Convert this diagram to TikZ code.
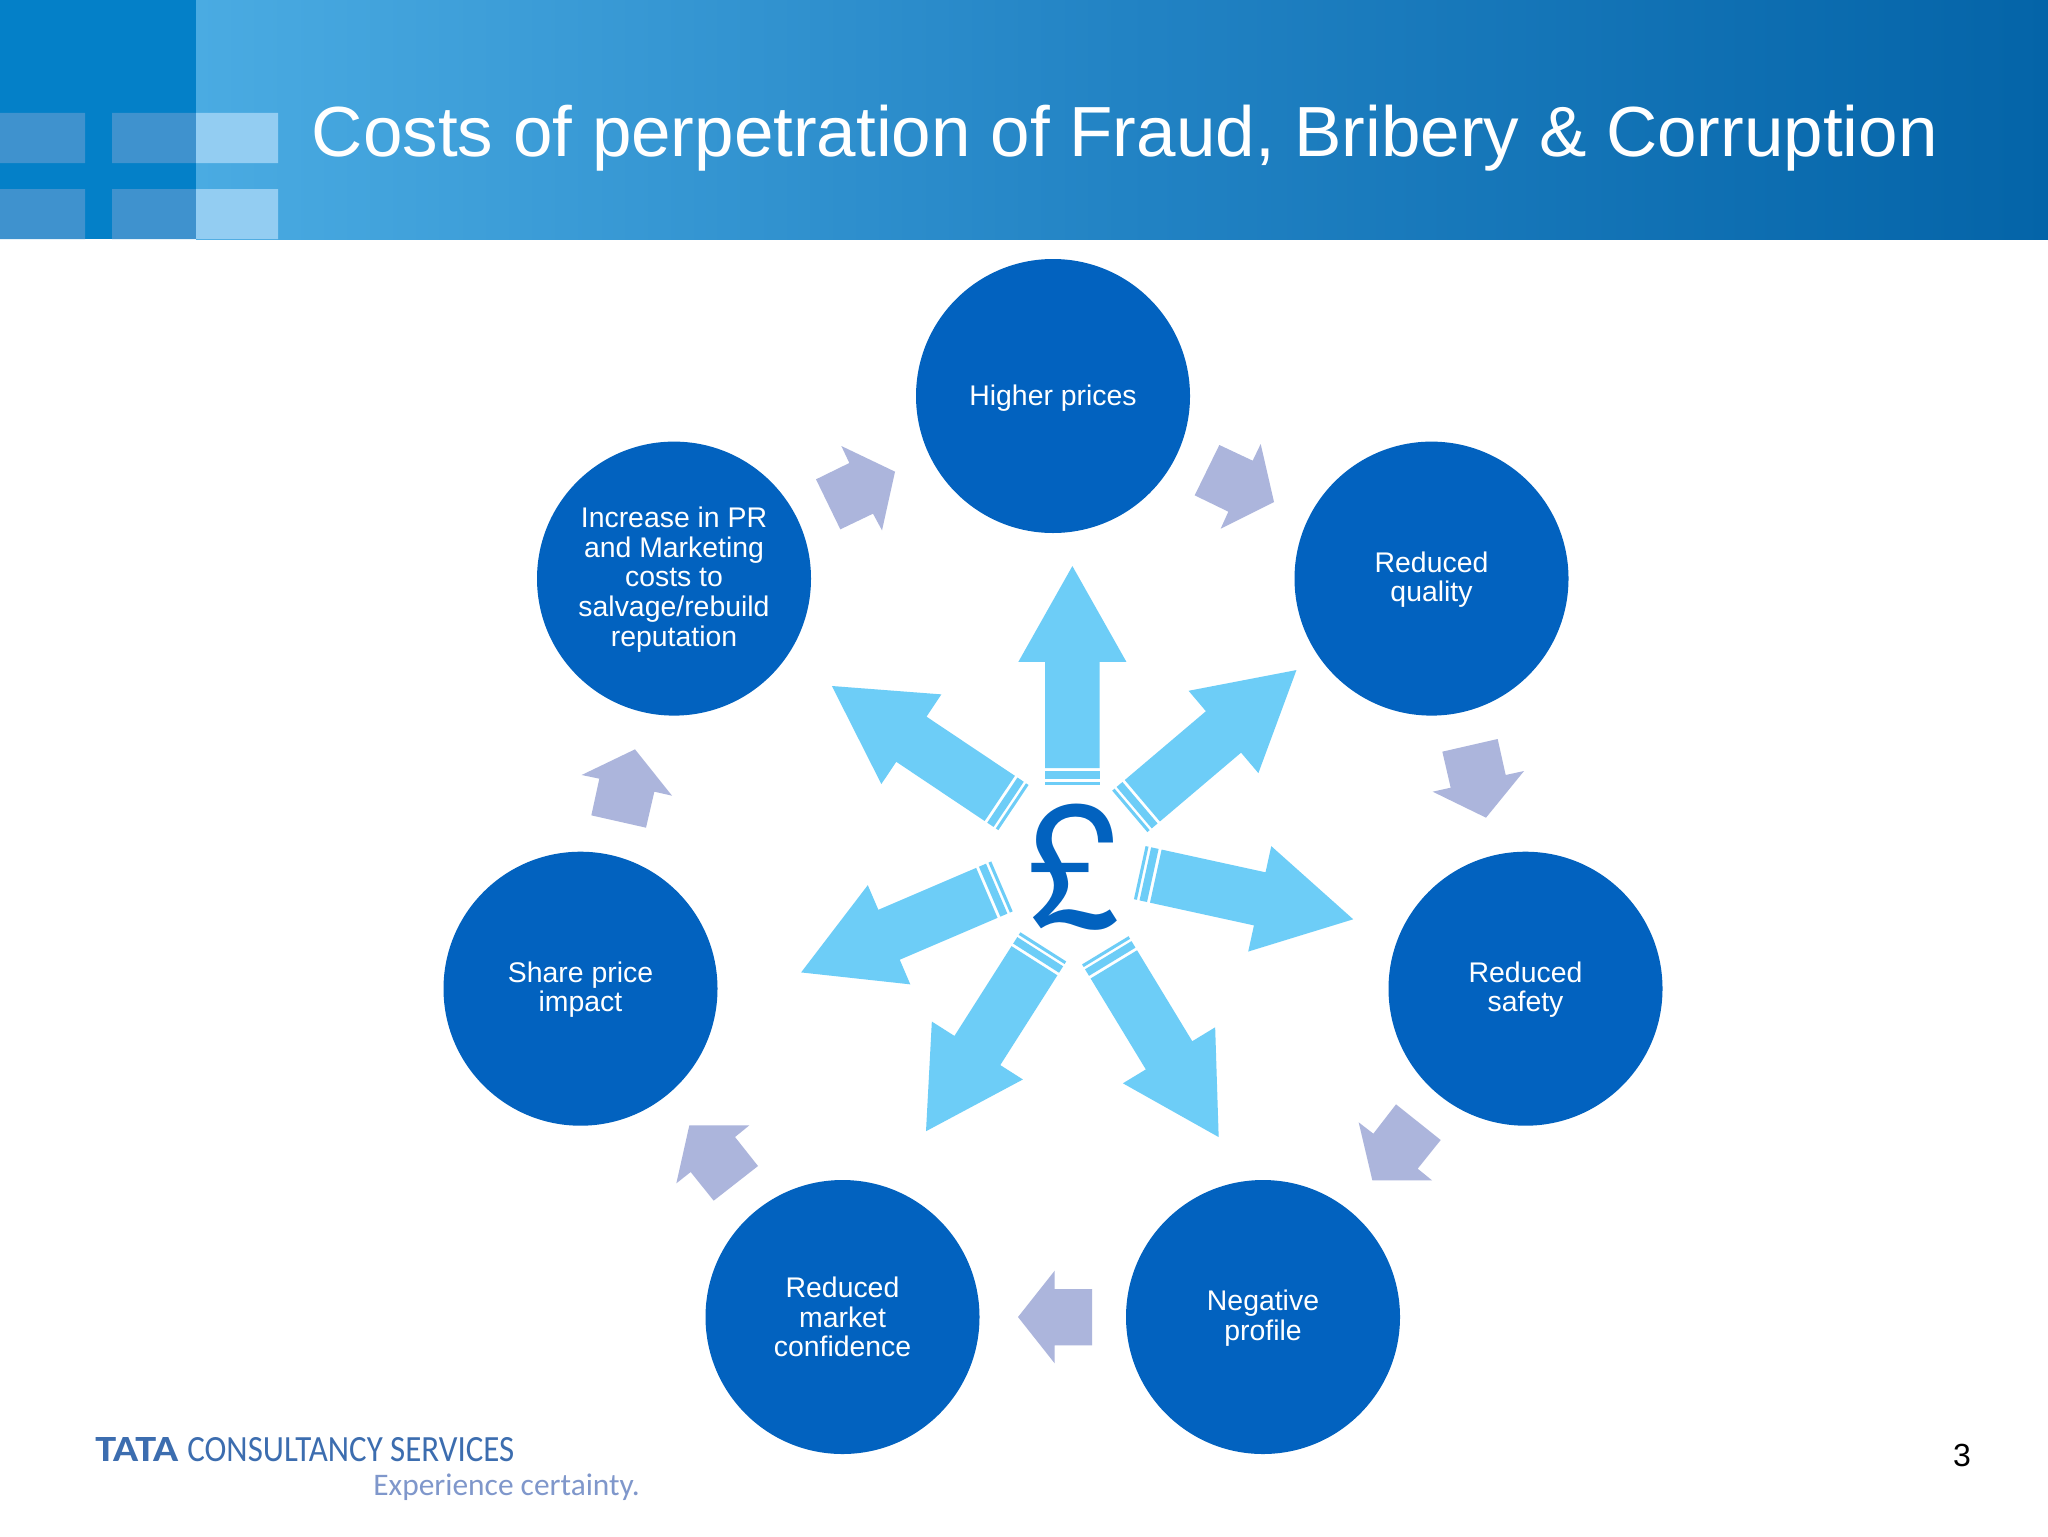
\documentclass[tikz,border=0pt]{standalone}
\usepackage{fontspec}
\newfontfamily\ars{Liberation Sans}
\newfontfamily\car{Carlito}
\newfontfamily\carn[FakeStretch=0.89]{Carlito}
\newfontfamily\carw[FakeStretch=1.14]{Carlito}
\newfontfamily\hrs{TeX Gyre Heros}
\usetikzlibrary{calc}
\definecolor{cdark}{HTML}{0262BF}
\definecolor{clight}{HTML}{6DCDF7}
\definecolor{cgrey}{HTML}{ACB5DC}
\definecolor{hsq}{HTML}{0480C8}
\definecolor{hmid}{HTML}{3F92CE}
\definecolor{hpale}{HTML}{93CDF2}
\definecolor{hl}{HTML}{4AABE2}
\definecolor{hm}{HTML}{2283C4}
\definecolor{hr}{HTML}{0464A8}
\definecolor{tata}{HTML}{3C6DAF}
\definecolor{exper}{HTML}{7F97CB}
\tikzset{
  bub/.style={circle,fill=cdark,minimum size=274*0.5pt,inner sep=0pt},
  btxt/.style={inner sep=0pt,align=center,text=white,font=\ars\fontsize{14.2}{14.8}\selectfont},
  crop/.style 2 args={shift={(#1,#2)},x=0.166667pt,y=-0.166667pt},
  zoomed/.style={shift={(780,550)},x=0.19135pt,y=-0.19135pt},
  cyc/.style={fill=cgrey},
  rad/.style={fill=clight}
}
\newcommand{\radarrow}[4]{%
  \pgfmathsetmacro{\radang}{atan2(-(#4-#2),#3-#1)}%
  \begin{scope}[shift={(#1,#2)},x=0.19135pt,y=0.19135pt,rotate=\radang]
    \fill[rad] (0,-71) rectangle (8,71);
    \fill[rad] (15,-71) rectangle (35,71);
    \fill[rad] (43,-71) -- (321,-71) -- (321,-141) -- (571,0) -- (321,141) -- (321,71) -- (43,71) -- cycle;
  \end{scope}}
\begin{document}
\begin{tikzpicture}[x=0.5pt,y=-0.5pt]
\useasboundingbox (0,0) rectangle (2048,1536);
\fill[white] (0,0) rectangle (2048,1536);
% header
\shade[left color=hl,right color=hr,middle color=hm] (196,0) rectangle (2048,239);
\fill[hsq] (0,0) rectangle (196,239);
\fill[hmid] (0,113) rectangle (85,163) (112,113) rectangle (196,163)
            (0,189) rectangle (85,239) (112,189) rectangle (196,239);
\fill[hpale] (196,113) rectangle (278,163) (196,189) rectangle (278,239);
\node[anchor=base west,inner sep=0pt,text=white,font=\ars\fontsize{35.5}{36}\selectfont] (title) at (311.5,156) {Costs of perpetration of Fraud, Bribery \& Corruption};
% bubbles
\node[bub] (hp) at (1053,396) {};
\node[bub] (rq) at (1431.5,578.6) {};
\node[bub] (rs) at (1525.5,988.7) {};
\node[bub] (np) at (1263,1317) {};
\node[bub] (rm) at (842.5,1317) {};
\node[bub] (sp) at (580.5,988.7) {};
\node[bub] (pr) at (674,578.6) {};
\node[btxt] (thp) at ($(hp)+(0,2)$) {Higher prices};
\node[btxt] (trq) at ($(rq)+(0,1)$) {Reduced\\quality};
\node[btxt] (trs) at ($(rs)+(0,1)$) {Reduced\\safety};
\node[btxt] (tnp) at ($(np)+(0,1)$) {Negative\\profile};
\node[btxt] (trm) at ($(rm)+(0,0)$) {Reduced\\market\\confidence};
\node[btxt] (tsp) at ($(sp)+(0,1)$) {Share price\\impact};
\node[btxt] (tpr) at ($(pr)+(0,1)$) {Increase in PR\\and Marketing\\costs to\\salvage/rebuild\\reputation};
% cycle arrows
\begin{scope}[crop={1170}{420}]\fill[cyc] (148,75)--(248,122)--(272,72)--(312,246)--(152,326)--(175,275)--(74,226)--cycle;\end{scope}
\begin{scope}[crop={1410}{720}]\fill[cyc] (97,95)--(263,57)--(287,165)--(342,153)--(228,293)--(68,215)--(122,203)--cycle;\end{scope}
\begin{scope}[crop={1340}{1090}]\fill[cyc] (168,43)--(302,150)--(233,236)--(276,271)--(97,271)--(56,97)--(100,131)--cycle;\end{scope}
\begin{scope}[crop={1000}{1250}]\fill[cyc] (54,201)--(164,62)--(164,117)--(276,117)--(276,286)--(164,286)--(164,340)--cycle;\end{scope}
\begin{scope}[crop={660}{1110}]\fill[cyc] (88,46)--(268,46)--(225,81)--(294,168)--(161,272)--(92,186)--(49,220)--cycle;\end{scope}
\begin{scope}[crop={565}{735}]\fill[cyc] (210,43)--(321,182)--(268,170)--(243,278)--(79,241)--(103,131)--(50,120)--cycle;\end{scope}
\begin{scope}[crop={800}{430}]\fill[cyc] (124,48)--(285,125)--(246,301)--(219,251)--(121,298)--(48,148)--(148,99)--cycle;\end{scope}
% radial arrows
\begin{scope}[zoomed]
\radarrow{764}{613}{764}{42}
\radarrow{914}{683}{1348}{315}
\radarrow{940}{843}{1498}{965}
\radarrow{850}{1046}{1145}{1532}
\radarrow{688}{1037}{382}{1518}
\radarrow{580}{879}{57}{1103}
\radarrow{610}{673}{138}{357}
\end{scope}
\node[text=cdark,inner sep=0pt,font=\hrs\fontsize{84}{84}\selectfont] (pound) at (1074,867) {£};
% footer
\node[anchor=base west,inner sep=0pt,text=tata,font=\carw\bfseries\fontsize{18.5}{19}\selectfont] (tcsa) at (95,1461.5) {TATA};
\node[anchor=base west,inner sep=0pt,text=tata,font=\carn\fontsize{18.5}{19}\selectfont] (tcsb) at (187,1461.5) {CONSULTANCY SERVICES};
\node[anchor=base west,inner sep=0pt,text=exper,font=\car\fontsize{15.7}{18}\selectfont] (exp) at (373,1495) {Experience certainty.};
\node[inner sep=0pt,text=black,font=\ars\fontsize{16}{16}\selectfont] (pg) at (1962,1455) {3};
\end{tikzpicture}
\end{document}
